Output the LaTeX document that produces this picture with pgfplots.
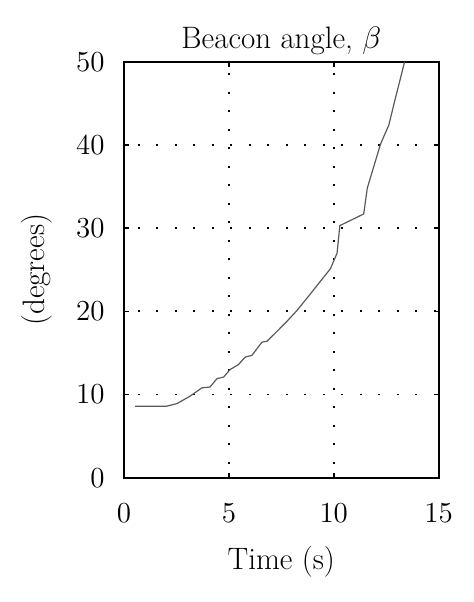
\documentclass[border=0pt]{standalone}
\usepackage{fix-cm}
\usepackage{fontspec}
\usepackage{pgfplots}
\pgfplotsset{compat=1.18}

\begin{document}
\begin{tikzpicture}
\begin{axis}[
    name=ax,
    scale only axis,
    width=157.3pt, height=208pt,
    xmin=0, xmax=15, ymin=0, ymax=50,
    xtick={0,5,10,15}, ytick={0,10,20,30,40,50},
    tick align=inside,
    major tick length=2.5pt,
    tick style={black, line width=0.8pt},
    axis line style={line width=1pt},
    grid=major,
    major grid style={black, line width=0.9pt, dash pattern=on 0.9pt off 8.35pt, dash phase=2.25pt},
    tick label style={font=\fontsize{14.5}{17}\selectfont},
    /pgf/number format/assume math mode=true,
    xticklabel style={inner sep=0pt, yshift=-12.7pt},
    yticklabel style={inner sep=0pt, xshift=-9.5pt},
    title={Beacon angle, $\beta$},
    title style={font=\fontsize{15.5}{18}\selectfont, at={(axis description cs:0.5,1.036)}, anchor=base, inner sep=0pt, yshift=-7pt},
    xlabel={Time (s)},
    label style={font=\fontsize{15.5}{18}\selectfont},
    xlabel style={at={(axis description cs:0.5,-0.2404)}, anchor=south, inner sep=0pt},
    ylabel={(degrees)},
    ylabel style={at={(axis description cs:-0.2257,0.5)}, anchor=south, rotate=0, inner sep=0pt},
]
% beacon angle trace
\addplot[color=black!65, line width=0.6pt, mark=none] coordinates {
    (0.53,8.6)(2.04,8.6)(2.52,8.9)(3.15,9.8)(3.71,10.8)(4.1,10.9)
    (4.43,11.9)(4.75,12.1)(5.06,13.0)(5.46,13.6)(5.78,14.5)(6.1,14.7)
    (6.58,16.3)(6.82,16.4)(7.3,17.6)(7.77,18.8)(8.25,20.1)(8.89,22.1)
    (9.36,23.6)(9.84,25.1)(10.16,27.0)(10.24,29.0)(10.29,30.3)
    (11.43,31.7)(11.6,34.8)(12.23,40.1)(12.63,42.4)(12.87,44.9)(13.38,50)
};
\end{axis}
% page size matching the reference proportions
\path (ax.south west) ++(-62pt,-62.15pt) rectangle ++(237pt,301pt);
\end{tikzpicture}
\end{document}
